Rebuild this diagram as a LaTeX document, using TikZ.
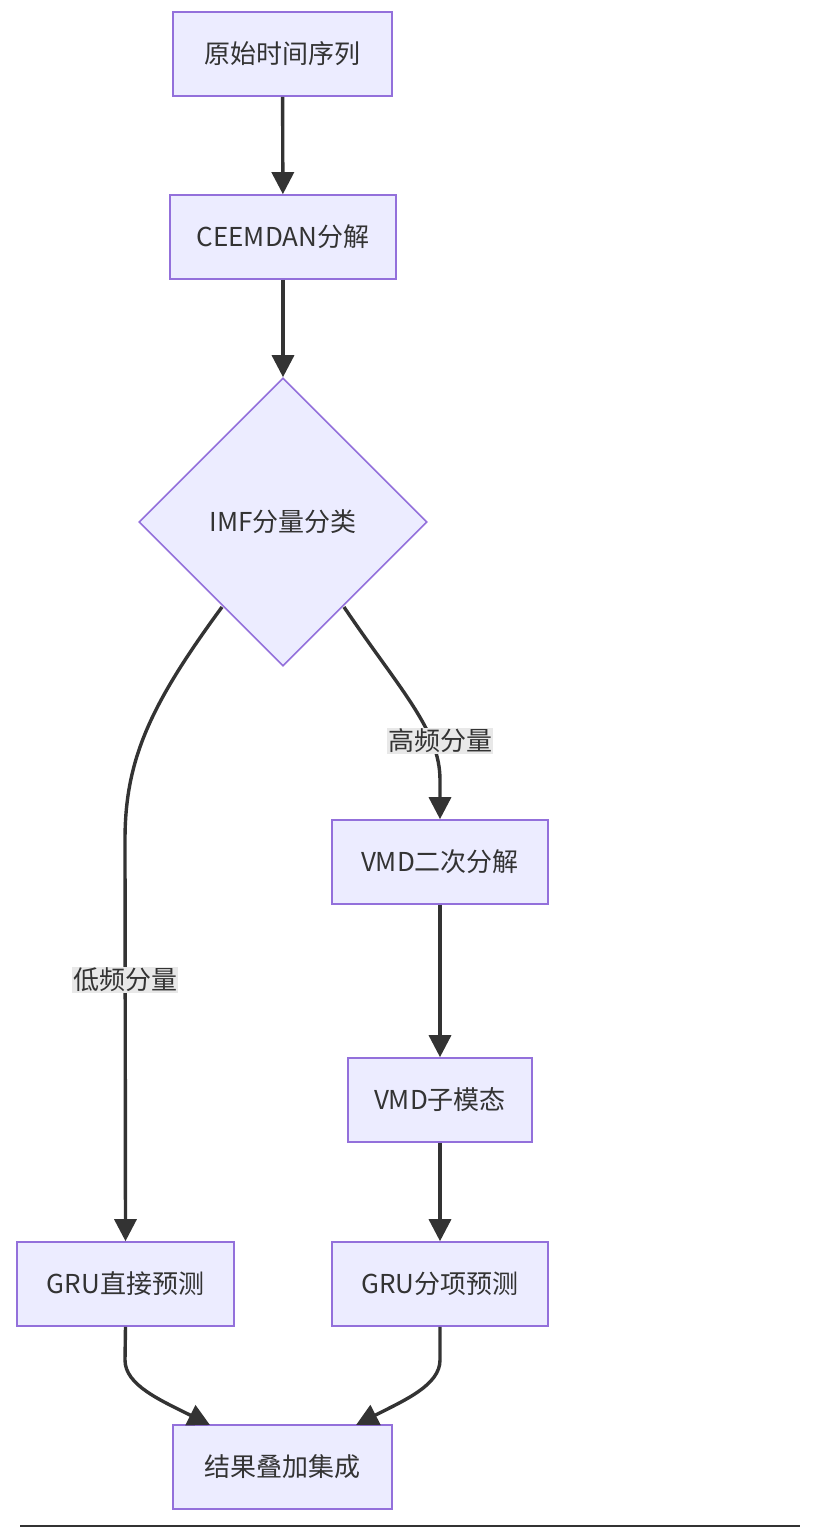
\documentclass[tikz,border=0pt]{standalone}
\usepackage{fontspec}
\setmainfont{Noto Sans CJK SC}
\usetikzlibrary{shapes.geometric,arrows.meta}
\definecolor{nfill}{HTML}{ECECFF}
\definecolor{nline}{HTML}{9370DB}
\definecolor{eline}{HTML}{333333}
\definecolor{lbg}{HTML}{E8E8E8}
\begin{document}
\begin{tikzpicture}[x=1pt,y=-1pt,
 box/.style={draw=nline,fill=nfill,line width=1.6pt,minimum height=84pt,inner sep=0pt,font=\fontsize{26}{30}\selectfont,text=eline},
 dia/.style={diamond,draw=nline,fill=nfill,line width=1.6pt,minimum width=288pt,minimum height=288pt,inner sep=0pt,font=\fontsize{26}{30}\selectfont,text=eline},
 lab/.style={fill=lbg,inner sep=1pt,font=\fontsize{26}{30}\selectfont,text=eline},
 arr/.style={draw=eline,line width=3.4pt,-{Triangle[length=22pt,width=22pt]}}]
\useasboundingbox (0,0) rectangle (812,1528);
\node[box,minimum width=219pt] (a) at (282.5,54) {原始时间序列};
\node[box,minimum width=226pt] (b) at (283,237) {CEEMDAN分解};
\node[dia] (c) at (283,522) {IMF分量分类};
\node[box,minimum width=216pt] (d) at (440,862) {VMD二次分解};
\node[box,minimum width=184pt] (e) at (440,1100) {VMD子模态};
\node[box,minimum width=217pt] (f) at (125.5,1284) {GRU直接预测};
\node[box,minimum width=216pt] (g) at (440,1284) {GRU分项预测};
\node[box,minimum width=219pt] (h) at (282.5,1467) {结果叠加集成};
\coordinate (c1) at (222,607);
\coordinate (c2) at (344,607);
\draw[arr] (a) -- (b);
\draw[arr] (b) -- (c);
\draw[arr] (c1) .. controls (150,705) and (125,760) .. (125,840) -- (f.north);
\draw[arr] (c2) .. controls (400,690) and (440,730) .. (440,780) -- (d.north);
\draw[arr] (d) -- (e);
\draw[arr] (e) -- (g);
\draw[arr] (f.south) -- (125,1360) .. controls (125,1385) and (160,1400) .. (210,1425);
\draw[arr] (g.south) -- (440,1360) .. controls (440,1385) and (405,1400) .. (356,1425);
\node[lab] (l1) at (440,741) {高频分量};
\node[lab] (l2) at (125,980) {低频分量};
\coordinate (z1) at (20,1526); \coordinate (z2) at (800,1526);
\draw[eline,line width=1.4pt] (z1) -- (z2);
\end{tikzpicture}
\end{document}
